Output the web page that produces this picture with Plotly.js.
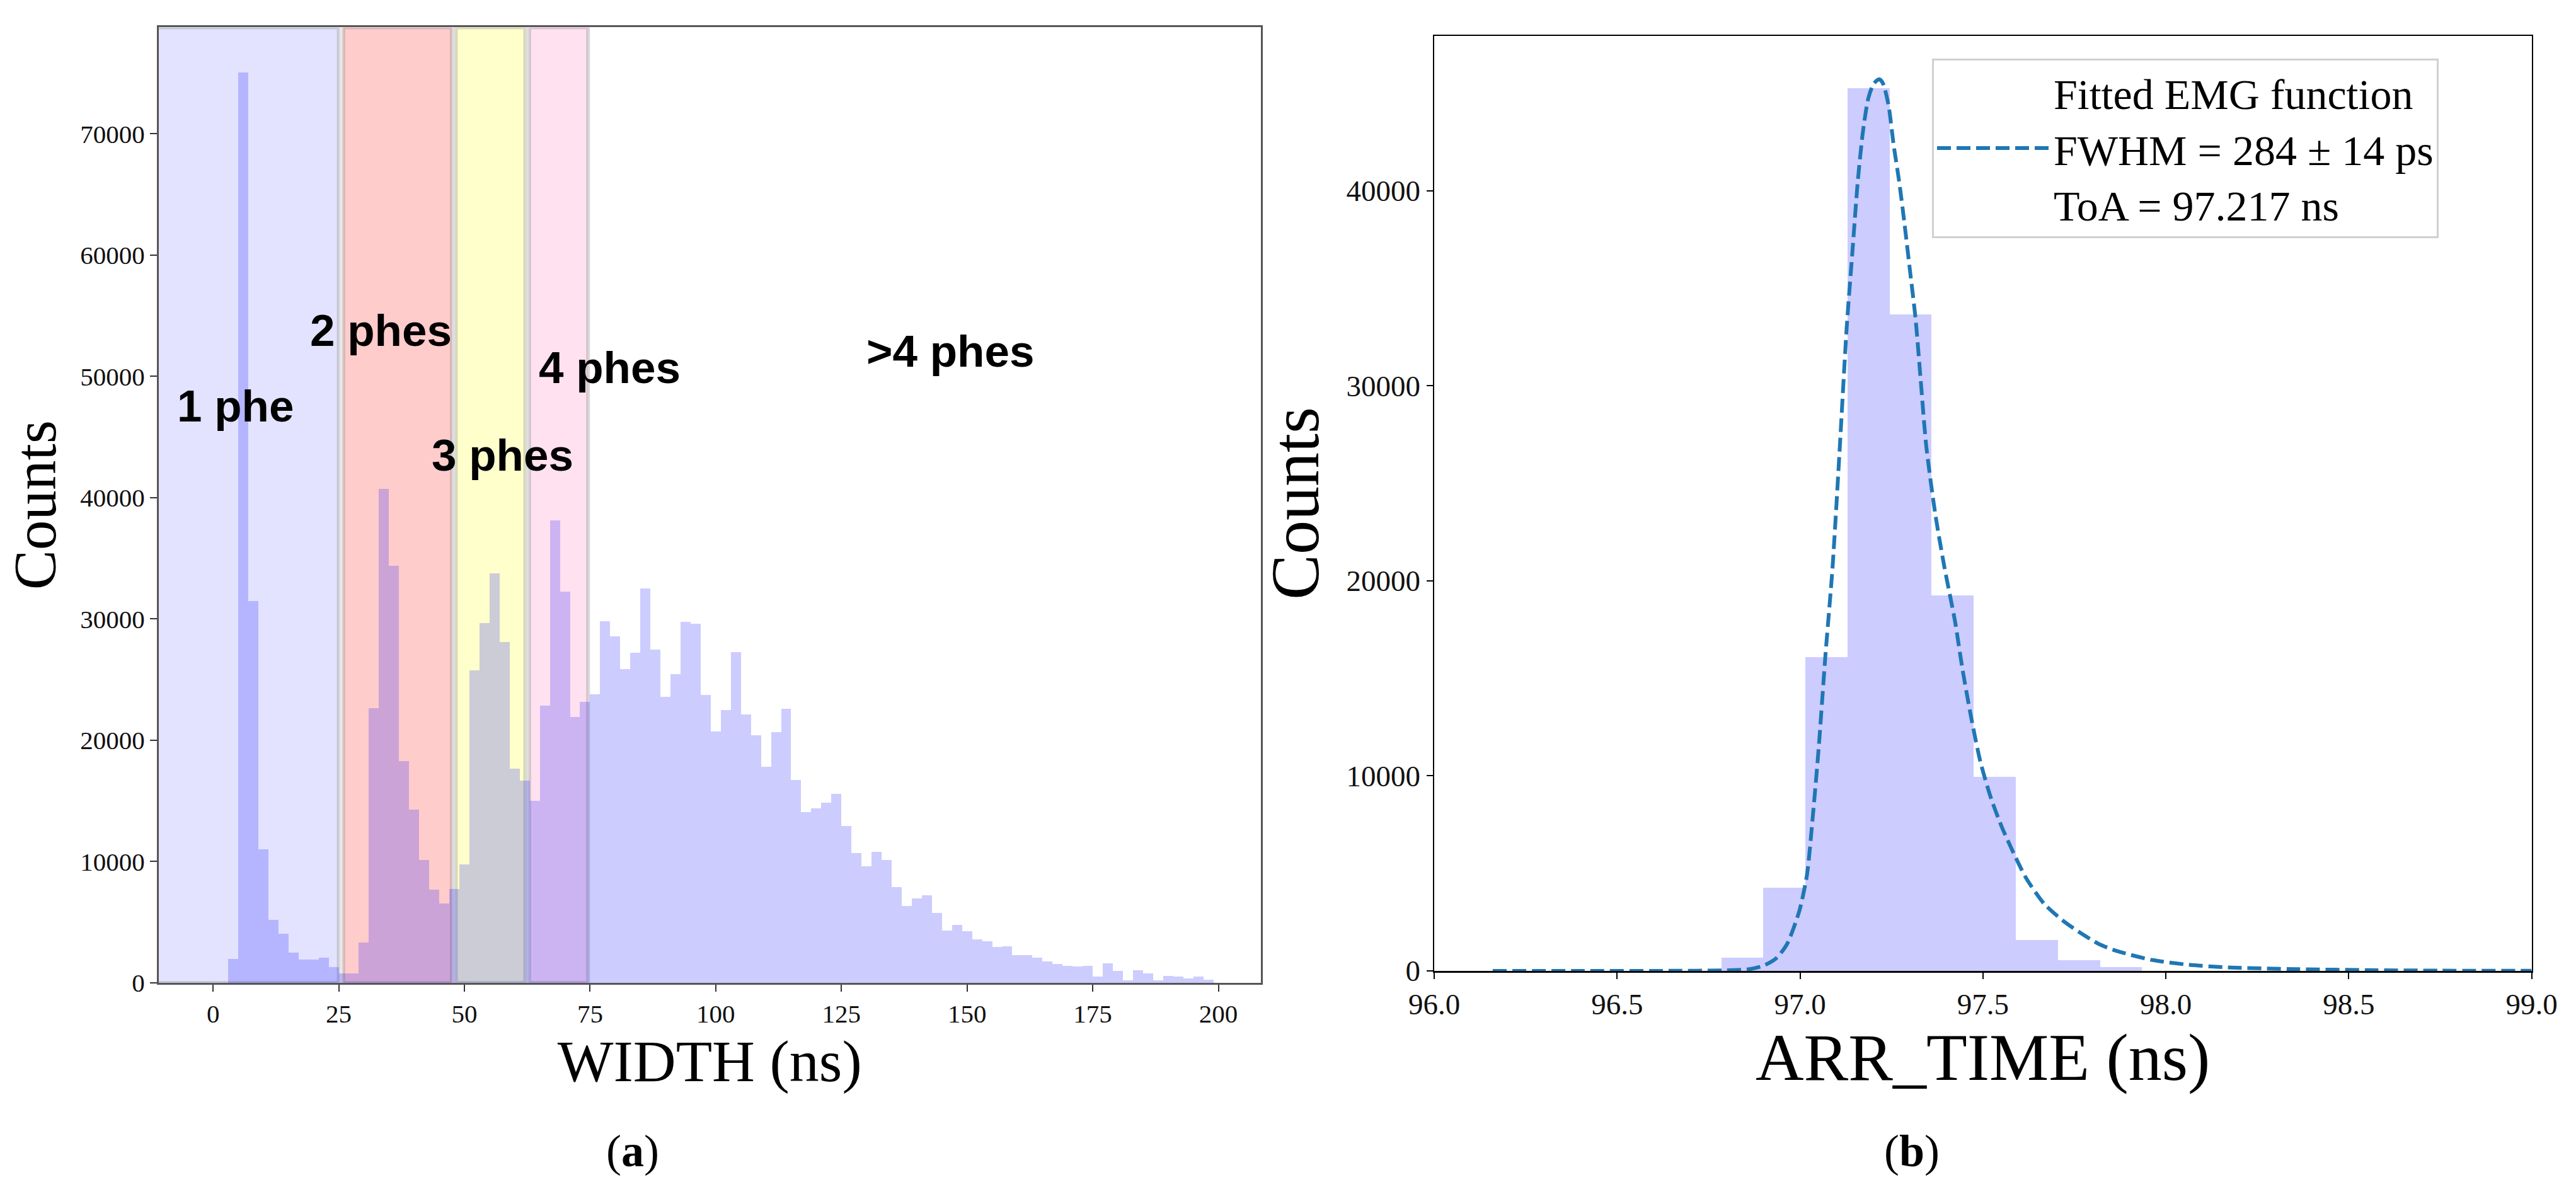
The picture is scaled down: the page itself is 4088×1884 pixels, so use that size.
<!DOCTYPE html>
<html>
<head>
<meta charset="utf-8">
<script src="https://cdn.plot.ly/plotly-3.0.1.min.js"></script>
<style>
  html, body { margin: 0; padding: 0; background: #ffffff; }
  #chart { width: 4088px; height: 1884px; }
</style>
</head>
<body>
<div id="chart"></div>
<script>
// ---------------- Panel (a): WIDTH histogram ----------------
const widthCenters = [4, 6, 8, 10, 12, 14, 16, 18, 20, 22, 24, 26, 28, 30, 32, 34, 36, 38, 40, 42,
  44, 46, 48, 50, 52, 54, 56, 58, 60, 62, 64, 66, 68, 70, 72, 74, 76, 78, 80, 82,
  84, 86, 88, 90, 92, 94, 96, 98, 100, 102, 104, 106, 108, 110, 112, 114, 116, 118, 120, 122,
  124, 126, 128, 130, 132, 134, 136, 138, 140, 142, 144, 146, 148, 150, 152, 154, 156, 158, 160, 162,
  164, 166, 168, 170, 172, 174, 176, 178, 180, 182, 184, 186, 188, 190, 192, 194, 196, 198];
const widthCounts = [1990, 75070, 31490, 11000, 5170, 4030, 2490, 1910, 1940, 2070,
  1320, 790, 790, 3330, 22630, 40700, 34400, 18290, 14270, 10140,
  7680, 6570, 7720, 9750, 25760, 29680, 33790, 28090, 17680, 16700,
  15000, 22870, 38150, 32260, 21920, 23190, 23800, 29820, 28550, 25890,
  27220, 32520, 27480, 23590, 25440, 29740, 29630, 23720, 20730, 22480,
  27250, 22130, 20410, 17840, 20670, 22580, 16750, 14100, 14370, 14840,
  15580, 12930, 10680, 9620, 10790, 10120, 7900, 6360, 6970, 7210,
  5780, 4320, 4770, 4240, 3580, 3450, 2970, 3020, 2310, 2310,
  2070, 1780, 1560, 1400, 1330, 1380, 500, 1590, 980, 210,
  1060, 800, 210, 580, 500, 370, 530, 270];
const widthBinSize = 2;

// photo-electron regions (ns)
const regionLabels = ['1 phe', '2 phes', '3 phes', '4 phes', '>4 phes'];
const regionStart = [-20, 25.9, 48.3, 62.9];
const regionEnd = [25.0, 47.5, 62.1, 74.6];
const regionColors = ['rgba(0,0,255,0.11)', 'rgba(255,0,0,0.2)', 'rgba(255,255,0,0.2)', 'rgba(255,105,180,0.2)'];
const labelX = [4.4, 33.4, 57.6, 78.9, 146.7];
const labelY = [47580, 53770, 43530, 50700, 52050];

const widthTicks = [0, 25, 50, 75, 100, 125, 150, 175, 200];
const countTicksA = [0, 10000, 20000, 30000, 40000, 50000, 60000, 70000];

// ---------------- Panel (b): ARR_TIME histogram + EMG fit ----------------
const arrCenters = [96.8425, 96.9575, 97.0725, 97.1875, 97.3025, 97.4175, 97.5325, 97.6475, 97.7625, 97.8775];
const arrCounts = [685, 4265, 16100, 45250, 33660, 19250, 9960, 1570, 540, 185];
const arrBinSize = 0.115;

const emgX = [96.16, 96.40, 96.65, 96.80, 96.862, 96.901, 96.935, 96.965, 96.998, 97.019,
  97.034, 97.051, 97.069, 97.089, 97.108, 97.128, 97.143, 97.158, 97.1725, 97.187,
  97.202, 97.217, 97.227, 97.242, 97.256, 97.271, 97.286, 97.301, 97.316, 97.330,
  97.345, 97.370, 97.395, 97.424, 97.444, 97.469, 97.494, 97.523, 97.553, 97.590,
  97.619, 97.668, 97.718, 97.767, 97.816, 97.866, 97.964, 98.063, 98.162, 98.359,
  98.557, 98.75, 99.0];
const emgY = [0, 0, 5, 30, 90, 275, 646, 1390, 3060, 4910,
  7700, 11400, 16040, 20680, 26570, 33070, 36780, 40480, 43080, 44750,
  45490, 45710, 45490, 44380, 42340, 40480, 38260, 35850, 33430, 30280,
  26940, 23400, 20680, 17900, 15490, 12890, 10660, 8810, 7320, 5800,
  4730, 3430, 2590, 1945, 1390, 1020, 555, 313, 184, 90,
  40, 15, 5];
const emgLabel = 'Fitted EMG function<br>FWHM = 284 ± 14 ps<br>ToA = 97.217 ns';

const arrTicks = [96.0, 96.5, 97.0, 97.5, 98.0, 98.5, 99.0];
const countTicksB = [0, 10000, 20000, 30000, 40000];

// ---------------- traces ----------------
const traces = [
  {
    type: 'bar', x: widthCenters, y: widthCounts, width: widthBinSize,
    xaxis: 'x', yaxis: 'y',
    marker: { color: 'rgba(0,0,255,0.2)', line: { width: 0 } },
    showlegend: false, hoverinfo: 'x+y'
  },
  {
    type: 'bar', x: arrCenters, y: arrCounts, width: arrBinSize,
    xaxis: 'x2', yaxis: 'y2',
    marker: { color: 'rgba(0,0,255,0.2)', line: { width: 0 } },
    showlegend: false, hoverinfo: 'x+y'
  },
  {
    type: 'scatter', mode: 'lines', x: emgX, y: emgY,
    xaxis: 'x2', yaxis: 'y2', name: emgLabel,
    line: { color: '#1f77b4', width: 6, dash: '22px,9px', shape: 'spline', smoothing: 0.7 },
    showlegend: true
  }
];

const serif = 'Liberation Serif, Times New Roman, serif';
const yTopA = 78780;
const yTopB = 47930;

const shapes = regionStart.map((s, i) => ({
  type: 'rect', xref: 'x', yref: 'y', layer: 'below',
  x0: s, x1: regionEnd[i], y0: 0, y1: yTopA,
  fillcolor: regionColors[i],
  line: { color: 'rgba(120,120,120,0.28)', width: 6 }
}));

const annotations = regionLabels.map((t, i) => ({
  xref: 'x', yref: 'y', x: labelX[i], y: labelY[i],
  text: '<b>' + t + '</b>', showarrow: false,
  xanchor: 'center', yanchor: 'middle',
  font: { family: 'Liberation Sans, Arial, sans-serif', size: 71, color: '#000000' }
}));
annotations.push(
  { xref: 'paper', yref: 'paper', x: 1004 / 4088, y: 1 - 1827 / 1884, text: '(<b>a</b>)',
    showarrow: false, xanchor: 'center', yanchor: 'middle',
    font: { family: serif, size: 72, color: '#000000' } },
  { xref: 'paper', yref: 'paper', x: 3034 / 4088, y: 1 - 1827 / 1884, text: '(<b>b</b>)',
    showarrow: false, xanchor: 'center', yanchor: 'middle',
    font: { family: serif, size: 72, color: '#000000' } }
);

const layout = {
  width: 4088, height: 1884,
  margin: { l: 0, r: 0, t: 0, b: 0, pad: 0 },
  paper_bgcolor: '#ffffff', plot_bgcolor: '#ffffff',
  bargap: 0, barmode: 'overlay',
  showlegend: true,
  xaxis: {
    domain: [252 / 4088, 2000.5 / 4088], anchor: 'y',
    range: [-10.8, 208.4], tickvals: widthTicks, ticktext: widthTicks.map(String),
    showgrid: false, zeroline: false, automargin: false,
    showline: true, mirror: true, linecolor: '#555555', linewidth: 3,
    ticks: 'outside', ticklen: 11, tickwidth: 2, tickcolor: '#333333',
    tickfont: { family: serif, size: 41, color: '#111111' },
    title: { text: 'WIDTH (ns)', font: { family: serif, size: 94, color: '#000000' }, standoff: 0 }
  },
  yaxis: {
    domain: [1 - 1560 / 1884, 1 - 43.4 / 1884], anchor: 'x',
    range: [0, yTopA], tickvals: countTicksA, ticktext: countTicksA.map(String),
    showgrid: false, zeroline: false, automargin: false,
    showline: true, mirror: true, linecolor: '#555555', linewidth: 3,
    ticks: 'outside', ticklen: 11, tickwidth: 2, tickcolor: '#333333',
    tickfont: { family: serif, size: 41, color: '#111111' },
    title: { text: 'Counts', font: { family: serif, size: 95, color: '#000000' }, standoff: 8 }
  },
  xaxis2: {
    domain: [2276 / 4088, 4017.5 / 4088], anchor: 'y2',
    range: [96.0, 99.0], tickvals: arrTicks, ticktext: arrTicks.map(v => v.toFixed(1)),
    showgrid: false, zeroline: false, automargin: false,
    showline: true, mirror: true, linecolor: '#000000', linewidth: 2.5,
    ticks: 'outside', ticklen: 10, tickwidth: 2, tickcolor: '#000000',
    tickfont: { family: serif, size: 47, color: '#111111' },
    title: { text: 'ARR_TIME (ns)', font: { family: serif, size: 106, color: '#000000' }, standoff: 0 }
  },
  yaxis2: {
    domain: [1 - 1541 / 1884, 1 - 57 / 1884], anchor: 'x2',
    range: [0, yTopB], tickvals: countTicksB, ticktext: countTicksB.map(String),
    showgrid: false, zeroline: false, automargin: false,
    showline: true, mirror: true, linecolor: '#000000', linewidth: 2.5,
    ticks: 'outside', ticklen: 10, tickwidth: 2, tickcolor: '#000000',
    tickfont: { family: serif, size: 47, color: '#111111' },
    title: { text: 'Counts', font: { family: serif, size: 108, color: '#000000' }, standoff: 8 }
  },
  legend: {
    x: 3066 / 4088, y: 1 - 93 / 1884, xanchor: 'left', yanchor: 'top',
    bgcolor: 'rgba(255,255,255,0.85)', bordercolor: '#d0d0d0', borderwidth: 3,
    font: { family: serif, size: 68, color: '#000000' },
    itemwidth: 180, tracegroupgap: 0
  },
  shapes: shapes,
  annotations: annotations
};

Plotly.newPlot('chart', traces, layout, { displayModeBar: false, staticPlot: true });
</script>
</body>
</html>
